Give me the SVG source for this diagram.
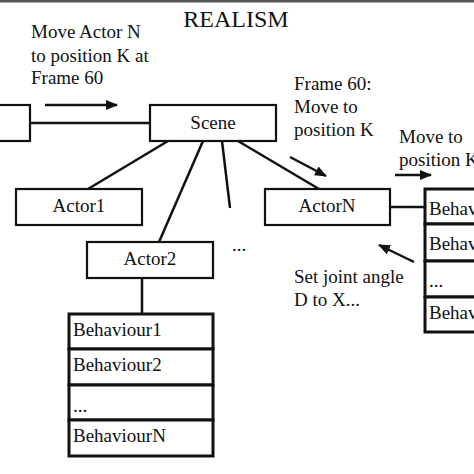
<svg xmlns="http://www.w3.org/2000/svg" width="474" height="474" viewBox="0 0 474 474">
<style>
text{font-family:"Liberation Serif","Times New Roman",serif;font-size:19px;fill:#111}
.box{fill:#fff;stroke:#111;stroke-width:2.2}
.stk{fill:#fff;stroke:#111;stroke-width:3}
.ln{stroke:#111;stroke-width:2.5;fill:none}
.ar{stroke:#111;stroke-width:2.5;fill:none;marker-end:url(#ah)}
.c{text-anchor:middle}
</style>
<defs>
<marker id="ah" markerWidth="12" markerHeight="10" refX="11" refY="5" orient="auto" markerUnits="userSpaceOnUse">
<path d="M0,0 L12,5 L0,10 Z" fill="#111"/>
</marker>
</defs>
<rect x="0" y="0" width="474" height="474" fill="#fff"/>
<rect x="0" y="0" width="474" height="2.5" fill="#555"/>
<text x="236" y="27" class="c" style="font-size:24px">REALISM</text>

<g id="connectors">
<line class="ln" x1="27" y1="123" x2="150" y2="123"/>
<line class="ln" x1="168" y1="141" x2="88" y2="189"/>
<line class="ln" x1="203" y1="141" x2="159" y2="242"/>
<line class="ln" x1="222" y1="141" x2="230" y2="208"/>
<line class="ln" x1="238" y1="141" x2="319" y2="189"/>
<line class="ln" x1="390" y1="207" x2="425" y2="207"/>
<line class="ln" x1="142" y1="278" x2="142" y2="314"/>
<line class="ar" x1="45" y1="105" x2="117" y2="105"/>
<line class="ar" x1="290" y1="157" x2="326" y2="176"/>
<line class="ar" x1="395" y1="175" x2="431" y2="175"/>
<line class="ar" x1="414" y1="262" x2="379" y2="245"/>
</g>

<g id="labels">
<text x="31" y="38">Move Actor N</text>
<text x="31" y="62">to position K at</text>
<text x="31" y="84">Frame 60</text>
<text x="294" y="90">Frame 60:</text>
<text x="294" y="113">Move to</text>
<text x="294" y="136">position K</text>
<text x="399" y="143">Move to</text>
<text x="399" y="166">position K</text>
<text x="294" y="283">Set joint angle</text>
<text x="294" y="306">D to X...</text>
<text x="232" y="251">...</text>
</g>

<g id="left-node"><rect class="box" x="-10" y="105" width="40" height="36"/></g>
<g id="scene"><rect class="box" x="150" y="105" width="126" height="36"/><text x="213" y="129" class="c">Scene</text></g>
<g id="actor1"><rect class="box" x="16" y="189" width="126" height="36"/><text x="79" y="212" class="c">Actor1</text></g>
<g id="actor2"><rect class="box" x="87" y="242" width="126" height="36"/><text x="150" y="265" class="c">Actor2</text></g>
<g id="actorN"><rect class="box" x="265" y="189" width="125" height="36"/><text x="327" y="212" class="c">ActorN</text></g>

<g id="behaviours-actor2">
<rect class="stk" x="69" y="314" width="144" height="35"/>
<rect class="stk" x="69" y="349" width="144" height="36"/>
<rect class="stk" x="69" y="385" width="144" height="35"/>
<rect class="stk" x="69" y="420" width="144" height="36"/>
<text x="73" y="336">Behaviour1</text>
<text x="73" y="371">Behaviour2</text>
<text x="73" y="412">...</text>
<text x="73" y="442">BehaviourN</text>
</g>

<g id="behaviours-actorN">
<rect class="stk" x="425" y="189" width="144" height="35"/>
<rect class="stk" x="425" y="224" width="144" height="37"/>
<rect class="stk" x="425" y="261" width="144" height="36"/>
<rect class="stk" x="425" y="297" width="144" height="35"/>
<text x="429" y="215">Behaviour1</text>
<text x="429" y="250">Behaviour2</text>
<text x="429" y="287">...</text>
<text x="429" y="319">BehaviourN</text>
</g>
</svg>
